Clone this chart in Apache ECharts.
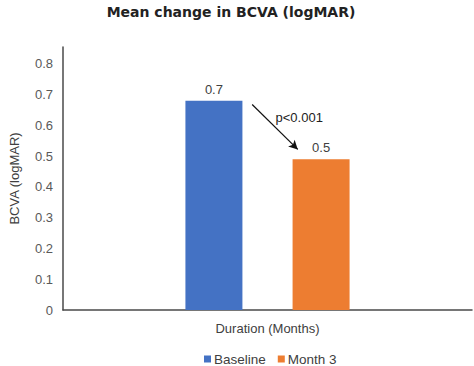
<!DOCTYPE html>
<html>
<head>
<meta charset="utf-8">
<script src="https://cdn.jsdelivr.net/npm/echarts@6/dist/echarts.min.js"></script>
<style>html,body{margin:0;padding:0;background:#fff}#c{width:474px;height:366px}</style>
</head>
<body>
<div id="c"></div>
<script>
const categories = ['Duration (Months)'];
const seriesNames = ['Baseline', 'Month 3'];
const baselineValues = [0.68];
const month3Values = [0.49];
const yTicks = [0, 0.1, 0.2, 0.3, 0.4, 0.5, 0.6, 0.7, 0.8];
const annotationText = 'p<0.001';

const chart = echarts.init(document.getElementById('c'), null, {renderer: 'svg'});
const font = 'Liberation Sans, Arial, sans-serif';
const axisGray = '#595959';
const labelCfg = {show: true, position: 'top', distance: 5, color: '#404040', fontFamily: font, fontSize: 13,
  formatter: p => p.value.toFixed(1)};

chart.setOption({
  animation: false,
  title: {
    text: 'Mean change in BCVA (logMAR)',
    left: 226, top: 0, textAlign: 'center',
    textStyle: {fontFamily: 'DejaVu Sans, sans-serif', fontWeight: 'bold', fontSize: 14, color: '#222'}
  },
  grid: {left: 59, right: 2, top: 47, bottom: 56, containLabel: false},
  legend: {
    data: seriesNames, left: 199, top: 347, icon: 'rect', itemWidth: 7, itemHeight: 7, itemGap: 12,
    textStyle: {fontFamily: font, fontSize: 13.5, color: '#404040', padding: [0, 0, 0, -2]}
  },
  xAxis: [{
    type: 'category', data: categories,
    name: categories[0], nameLocation: 'middle', nameGap: 12,
    nameTextStyle: {fontFamily: font, fontSize: 13, color: '#404040'},
    axisLine: {lineStyle: {color: '#4a4a4a', width: 1.5}},
    axisTick: {show: false}, axisLabel: {show: false}
  }, {
    type: 'value', min: 0, max: 1, show: false
  }],
  yAxis: {
    type: 'value', min: yTicks[0], max: 0.855, interval: yTicks[1] - yTicks[0],
    name: 'BCVA (logMAR)', nameLocation: 'middle', nameGap: 42,
    nameTextStyle: {fontFamily: font, fontSize: 13, color: '#404040'},
    axisLine: {show: true, lineStyle: {color: '#4a4a4a', width: 1.5}},
    axisTick: {show: false}, splitLine: {show: false},
    axisLabel: {showMaxLabel: false, margin: 10, color: axisGray, fontFamily: font, fontSize: 13,
      formatter: v => (Math.round(v * 10) / 10).toString()}
  },
  series: [{
    name: seriesNames[0], type: 'bar', data: baselineValues, barWidth: 57, barGap: '88%',
    itemStyle: {color: '#4472C4'}, label: labelCfg
  }, {
    name: seriesNames[1], type: 'bar', data: month3Values, barWidth: 57,
    itemStyle: {color: '#ED7D31'}, label: labelCfg
  }, {
    name: 'annotation', type: 'line', xAxisIndex: 1, data: [], silent: true,
    markLine: {
      silent: true, symbol: ['none', 'arrow'], symbolSize: [7, 9],
      lineStyle: {color: '#111', width: 1.2, type: 'solid'},
      label: {show: false},
      data: [[{coord: [0.4625, 0.668]}, {coord: [0.574, 0.522]}]]
    },
    markPoint: {
      silent: true, symbol: 'rect', symbolSize: 1, itemStyle: {color: 'rgba(0,0,0,0)'},
      label: {show: true, position: 'inside', formatter: annotationText, color: '#222', fontFamily: font, fontSize: 13},
      data: [{coord: [0.5775, 0.627]}]
    }
  }]
});
</script>
</body>
</html>
